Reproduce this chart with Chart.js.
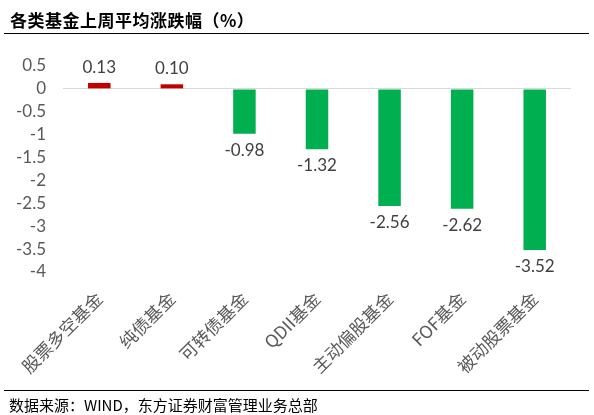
<!DOCTYPE html>
<html>
<head>
<meta charset="utf-8">
<script src="https://cdn.jsdelivr.net/npm/chart.js@4"></script>
<style>
  body { margin: 0; background: #fff; }
  #wrap { position: relative; width: 594px; height: 415px; overflow: hidden; }
  #title { position: absolute; left: 10px; top: 7px; font: bold 17px "Noto Sans CJK SC"; color: #000; letter-spacing: 0.5px; }
  .rule { position: absolute; left: 4px; width: 585px; height: 1px; background: #000; }
  #source { position: absolute; left: 9px; top: 394px; font: 15px "Noto Sans CJK SC"; color: #000; }
  canvas { position: absolute; left: 0; top: 0; }
</style>
</head>
<body>
<div id="wrap">
  <canvas id="chart" width="594" height="415"></canvas>
  <div id="title">各类基金上周平均涨跌幅（%）</div>
  <div class="rule" style="top:33px"></div>
  <div class="rule" style="top:390px"></div>
  <div id="source">数据来源：WIND，东方证券财富管理业务总部</div>
</div>
<script>
const categories = ["股票多空基金", "纯债基金", "可转债基金", "QDII基金", "主动偏股基金", "FOF基金", "被动股票基金"];
const weeklyChange = [0.13, 0.10, -0.98, -1.32, -2.56, -2.62, -3.52];

// value labels above / below each bar
const valueLabels = {
  id: "valueLabels",
  afterDatasetsDraw(chart) {
    const ctx = chart.ctx;
    const meta = chart.getDatasetMeta(0);
    ctx.save();
    ctx.font = "17px Lato";
    ctx.fillStyle = "#404040";
    ctx.textAlign = "center";
    meta.data.forEach((bar, i) => {
      const v = weeklyChange[i];
      if (v >= 0) {
        ctx.textBaseline = "bottom";
        ctx.fillText(v.toFixed(2), bar.x, bar.y - 7);
      } else {
        ctx.textBaseline = "top";
        ctx.fillText(v.toFixed(2), bar.x, bar.y + 8);
      }
    });
    ctx.restore();
  }
};

new Chart(document.getElementById("chart"), {
  type: "bar",
  data: {
    labels: categories,
    datasets: [{
      data: weeklyChange,
      backgroundColor: weeklyChange.map(v => v >= 0 ? "#C00000" : "#00B050"),
      categoryPercentage: 1,
      barPercentage: 0.31
    }]
  },
  options: {
    responsive: false,
    animation: false,
    layout: { padding: { top: 66, left: 0, right: 23, bottom: 23 } },
    plugins: { legend: { display: false }, tooltip: { enabled: false } },
    scales: {
      x: {
        grid: { display: false },
        border: { display: false },
        ticks: {
          minRotation: 45,
          maxRotation: 45,
          padding: 8,
          color: "#595959",
          font: { family: "Noto Sans CJK SC", size: 17.5 }
        },
        afterFit: s => { s.height = 120; }
      },
      y: {
        min: -4,
        max: 0.5,
        border: { display: false },
        grid: {
          drawTicks: false,
          color: c => c.tick.value === 0 ? "#D9D9D9" : "transparent",
          lineWidth: 1
        },
        ticks: {
          stepSize: 0.5,
          autoSkip: false,
          padding: 17,
          color: "#595959",
          font: { family: "Lato", size: 17 },
          callback: v => String(Math.round(v * 10) / 10)
        },
        afterFit: s => { s.width = 63; }
      }
    }
  },
  plugins: [valueLabels]
});
</script>
</body>
</html>
